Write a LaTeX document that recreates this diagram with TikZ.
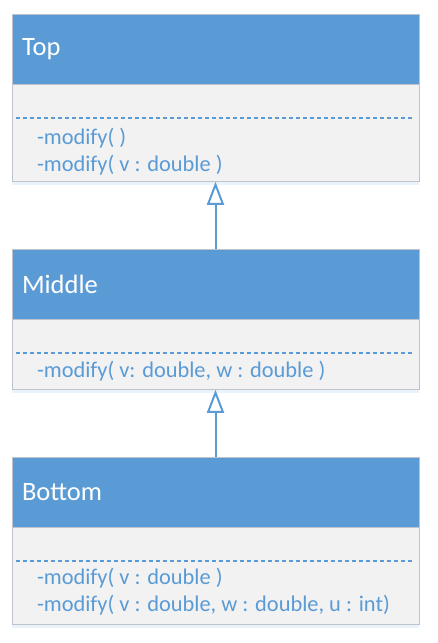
\documentclass[tikz,border=0pt]{standalone}
\usepackage{fontspec}
\setmainfont{Carlito}
\usetikzlibrary{positioning,arrows.meta,shadows}
\definecolor{umlblue}{HTML}{5B9BD5}
\definecolor{umlgray}{HTML}{F2F2F2}
\definecolor{umledge}{HTML}{BFC4CC}
\tikzset{
  classhead/.style={draw=umledge, fill=umlblue, text=white, minimum width=407pt, minimum height=70pt,
    text width=387pt, align=left, inner xsep=10pt, font=\fontsize{26.5}{30}\selectfont},
  classbody/.style={draw=umledge, fill=umlgray, minimum width=407pt, inner sep=0pt,
    drop shadow={opacity=0.12, shadow xshift=0pt, shadow yshift=-3pt, fill=umlblue}},
  sep/.style={draw=umlblue, line width=2pt, dash pattern=on 4.5pt off 2.5pt},
  methods/.style={anchor=north west, align=left, inner sep=0pt, text=umlblue, font=\fontsize{22.4}{27}\selectfont},
  inherit/.style={draw=umlblue, line width=2pt, -{Triangle[open, width=17pt, length=23pt, line width=2pt]}}
}
\begin{document}
\begin{tikzpicture}[x=1pt, y=-1pt]
\useasboundingbox (0,0) rectangle (438,643);
% classes
\node[classhead, anchor=north] (top) at (215.5,14) {Top};
\node[classbody, minimum height=97pt, below=0pt of top] (topbody) {};
\node[classhead, anchor=north] (middle) at (215.5,249) {Middle};
\node[classbody, minimum height=70pt, below=0pt of middle] (middlebody) {};
\node[classhead, anchor=north] (bottom) at (215.5,457) {Bottom};
\node[classbody, minimum height=97pt, below=0pt of bottom] (bottombody) {};

% separators
\path[sep] ([xshift=4pt, yshift=-34pt]topbody.north west) -- ([xshift=-5pt, yshift=-34pt]topbody.north east);
\path[sep] ([xshift=4pt, yshift=-34pt]middlebody.north west) -- ([xshift=-5pt, yshift=-34pt]middlebody.north east);
\path[sep] ([xshift=4pt, yshift=-34pt]bottombody.north west) -- ([xshift=-5pt, yshift=-34pt]bottombody.north east);

% operations
\node[methods] (topops) at ([xshift=25pt, yshift=-44pt]topbody.north west) {-modify( )\\-modify( v : double )};
\node[methods] (middleops) at ([xshift=25pt, yshift=-42pt]middlebody.north west) {-modify( v: double, w : double )};
\node[methods] (bottomops) at ([xshift=25pt, yshift=-41pt]bottombody.north west) {-modify( v : double )\\-modify( v : double, w : double, u : int)};

% generalisation
\path[inherit] (middle.north) -- (topbody.south);
\path[inherit] (bottom.north) -- (middlebody.south);
\end{tikzpicture}
\end{document}
